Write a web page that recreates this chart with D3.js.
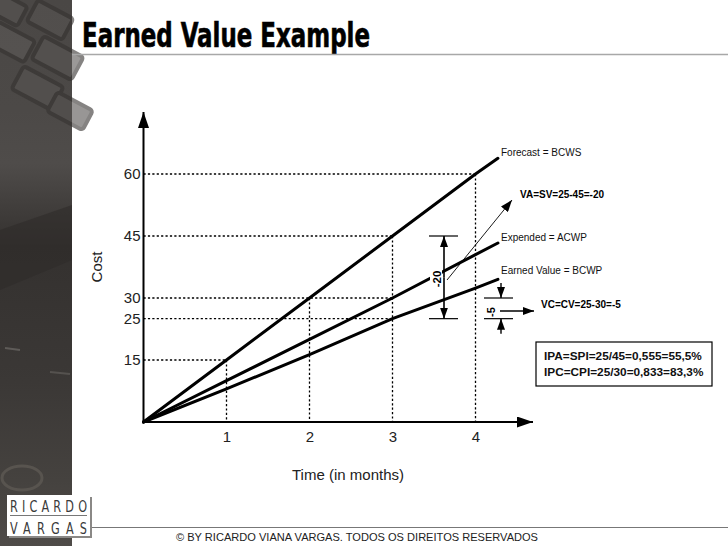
<!DOCTYPE html>
<html>
<head>
<meta charset="utf-8">
<script src="https://cdn.jsdelivr.net/npm/d3@7"></script>
<style>
  html, body { margin: 0; padding: 0; background: #fff; }
  svg { display: block; }
</style>
</head>
<body>
<div id="chart"></div>
<script>
// Datos del gráfico
const months = [0, 1, 2, 3, 4, 4.27];
const bcws = [0, 15, 30, 45, 60, 63.8];   // Forecast
const acwp = [0, 10, 20, 30, 40.5, 43.3]; // Expended
const bcwp = [0, 8, 16.3, 25, 32.4, 34.5]; // Earned Value
const seriesNames = ["Forecast = BCWS", "Expended = ACWP", "Earned Value = BCWP"];
const yTicks = [15, 25, 30, 45, 60];
const xTicks = [1, 2, 3, 4];
// líneas punteadas: nivel -> hasta qué mes
const hGuideLevels = [15, 25, 30, 45, 60];
const hGuideMonths = [1, 3, 3, 3, 4];
// verticales: mes -> hasta qué nivel
const vGuideMonths = [1, 2, 3, 4];
const vGuideLevels = [15, 30, 45, 60];
const indexLines = ["IPA=SPI=25/45=0,555=55,5%", "IPC=CPI=25/30=0,833=83,3%"];

const width = 728, height = 546;

const svg = d3.select("#chart").append("svg")
    .attr("width", width)
    .attr("height", height);

const defs = svg.append("defs");

// Fondo lateral oscuro (foto del teclado)
const grad = defs.append("linearGradient").attr("id", "side")
    .attr("x1", 0).attr("y1", 0).attr("x2", 0).attr("y2", 1);
[["0", "#4a4745"], ["0.2", "#4c4947"], ["0.3", "#4f4c4a"], ["0.45", "#34312f"], ["0.7", "#3b3836"], ["0.88", "#45423f"], ["1", "#4f4b48"]]
    .forEach(s => grad.append("stop").attr("offset", s[0]).attr("stop-color", s[1]));

function arrowMarker(id, w, h) {
    defs.append("marker").attr("id", id)
        .attr("viewBox", `0 0 ${w} ${h}`)
        .attr("refX", w).attr("refY", h / 2)
        .attr("markerWidth", w).attr("markerHeight", h)
        .attr("markerUnits", "userSpaceOnUse")
        .attr("orient", "auto")
        .append("path").attr("d", `M0,0L${w},${h / 2}L0,${h}Z`).attr("fill", "#000");
}
arrowMarker("axisArrow", 16, 11);
arrowMarker("dimArrow", 11, 8);
arrowMarker("thinArrow", 12, 9);

svg.append("rect").attr("x", 0).attr("y", 0).attr("width", 72).attr("height", height).attr("fill", "url(#side)");
const keys = svg.append("g").attr("opacity", 0.6);
[[-20, -5, 45, 22, "#585553"], [30, 8, 40, 24, "#575452"], [-10, 30, 42, 24, "#5c5957"], [35, 45, 45, 26, "#595654"],
 [15, 75, 45, 26, "#575452"], [50, 100, 40, 22, "#555250"]]
    .forEach(k => keys.append("rect").attr("x", k[0]).attr("y", k[1]).attr("width", k[2]).attr("height", k[3])
        .attr("rx", 3).attr("fill", k[4]).attr("stroke", "#353230").attr("stroke-width", 4)
        .attr("transform", `rotate(28 ${k[0] + k[2] / 2} ${k[1] + k[3] / 2})`));
svg.append("path").attr("d", "M0,230 L72,205 L72,260 L0,290 Z").attr("fill", "#2f2c2a").attr("opacity", 0.6);
svg.append("ellipse").attr("cx", 22).attr("cy", 478).attr("rx", 20).attr("ry", 12)
    .attr("fill", "none").attr("stroke", "#58544f").attr("stroke-width", 3);
svg.append("line").attr("x1", 5).attr("x2", 20).attr("y1", 348).attr("y2", 350).attr("stroke", "#5e5b58").attr("stroke-width", 2);
svg.append("line").attr("x1", 50).attr("x2", 70).attr("y1", 372).attr("y2", 374).attr("stroke", "#55524f").attr("stroke-width", 2);

// Título
svg.append("text")
    .attr("x", 82).attr("y", 47)
    .attr("font-family", "'DejaVu Sans Condensed', 'DejaVu Sans', sans-serif")
    .attr("font-weight", "bold")
    .attr("font-size", 33)
    .attr("textLength", 288)
    .attr("lengthAdjust", "spacingAndGlyphs")
    .attr("stroke", "#000").attr("stroke-width", 0.6)
    .attr("fill", "#000")
    .text("Earned Value Example");
svg.append("line").attr("x1", 72).attr("x2", width).attr("y1", 54.5).attr("y2", 54.5)
    .attr("stroke", "#a8a8a8").attr("stroke-width", 1.5);

// Escalas
const x = d3.scaleLinear().domain([0, 4]).range([143.5, 475.5]);
const y = d3.scaleLinear().domain([0, 60]).range([422, 174]);

const labelFont = "'Liberation Sans', Arial, sans-serif";

// Guías punteadas
const guides = svg.append("g").attr("stroke", "#000").attr("stroke-width", 1.3).attr("stroke-dasharray", "2.2,2.2");
hGuideLevels.forEach((v, i) => {
    guides.append("line").attr("x1", x(0)).attr("x2", x(hGuideMonths[i]))
        .attr("y1", y(v)).attr("y2", y(v));
});
vGuideMonths.forEach((m, i) => {
    guides.append("line").attr("x1", x(m)).attr("x2", x(m))
        .attr("y1", y(vGuideLevels[i])).attr("y2", y(0));
});

// Ejes
svg.append("line").attr("x1", x(0)).attr("x2", x(0)).attr("y1", y(0) + 1).attr("y2", 112)
    .attr("stroke", "#000").attr("stroke-width", 2).attr("marker-end", "url(#axisArrow)");
svg.append("line").attr("x1", x(0) - 1).attr("x2", 533).attr("y1", y(0)).attr("y2", y(0))
    .attr("stroke", "#000").attr("stroke-width", 2).attr("marker-end", "url(#axisArrow)");

const yAxis = svg.append("g").attr("transform", `translate(${x(0) - 3},0)`)
    .call(d3.axisLeft(y).tickValues(yTicks).tickSize(0).tickPadding(0));
yAxis.select(".domain").remove();
yAxis.selectAll("text").attr("font-family", labelFont).attr("font-size", 15).attr("fill", "#222");

const xAxis = svg.append("g").attr("transform", `translate(0,${y(0) + 9})`)
    .call(d3.axisBottom(x).tickValues(xTicks).tickSize(0).tickPadding(0).tickFormat(d3.format("d")));
xAxis.select(".domain").remove();
xAxis.selectAll("text").attr("font-family", labelFont).attr("font-size", 15).attr("fill", "#222");

svg.append("text").attr("transform", `translate(102,267) rotate(-90)`)
    .attr("text-anchor", "middle")
    .attr("font-family", labelFont).attr("font-size", 15).attr("fill", "#222")
    .text("Cost");
svg.append("text").attr("x", 348).attr("y", 480)
    .attr("text-anchor", "middle")
    .attr("font-family", labelFont).attr("font-size", 15).attr("fill", "#222")
    .text("Time (in months)");

// Series
const line = d3.line().x(d => x(d[0])).y(d => y(d[1]));
[bcws, acwp, bcwp].forEach(vals => {
    svg.append("path")
        .datum(months.map((m, i) => [m, vals[i]]))
        .attr("d", line)
        .attr("fill", "none")
        .attr("stroke", "#000")
        .attr("stroke-width", 3)
        .attr("stroke-linecap", "round");
});

// Etiquetas de series
const labelY = [156, 241, 274];
seriesNames.forEach((name, i) => {
    svg.append("text").attr("x", 501).attr("y", labelY[i])
        .attr("font-family", labelFont).attr("font-size", 10).attr("fill", "#111")
        .text(name);
});

// Cota -20 (SV)
const dim = svg.append("g").attr("stroke", "#000");
const sx = 444;
dim.append("line").attr("x1", 429).attr("x2", 458).attr("y1", y(45)).attr("y2", y(45)).attr("stroke-width", 1.2);
dim.append("line").attr("x1", 429).attr("x2", 458).attr("y1", y(25)).attr("y2", y(25)).attr("stroke-width", 1.2);
const midSV = (y(45) + y(25)) / 2;
dim.append("line").attr("x1", sx).attr("x2", sx).attr("y1", midSV).attr("y2", y(45))
    .attr("stroke-width", 1.6).attr("marker-end", "url(#dimArrow)");
dim.append("line").attr("x1", sx).attr("x2", sx).attr("y1", midSV).attr("y2", y(25))
    .attr("stroke-width", 1.6).attr("marker-end", "url(#dimArrow)");
svg.append("rect").attr("x", 430).attr("y", 266).attr("width", 12).attr("height", 25).attr("fill", "#fff");
svg.append("text").attr("transform", `translate(441,279) rotate(-90)`)
    .attr("text-anchor", "middle")
    .attr("font-family", labelFont).attr("font-weight", "bold").attr("font-size", 11.5)
    .text("-20");
dim.append("line").attr("x1", 447).attr("y1", 280).attr("x2", 512).attr("y2", 200)
    .attr("stroke-width", 0.9).attr("marker-end", "url(#thinArrow)");
svg.append("text").attr("x", 520).attr("y", 198)
    .attr("font-family", labelFont).attr("font-weight", "bold").attr("font-size", 10)
    .text("VA=SV=25-45=-20");

// Cota -5 (CV)
const cx = 501;
dim.append("line").attr("x1", 484).attr("x2", 513).attr("y1", y(30)).attr("y2", y(30)).attr("stroke-width", 1.2);
dim.append("line").attr("x1", 484).attr("x2", 513).attr("y1", y(25)).attr("y2", y(25)).attr("stroke-width", 1.2);
dim.append("line").attr("x1", cx).attr("x2", cx).attr("y1", y(30) - 15).attr("y2", y(30))
    .attr("stroke-width", 1.4).attr("marker-end", "url(#dimArrow)");
dim.append("line").attr("x1", cx).attr("x2", cx).attr("y1", y(25) + 15).attr("y2", y(25))
    .attr("stroke-width", 1.4).attr("marker-end", "url(#dimArrow)");
svg.append("text").attr("transform", `translate(495,312) rotate(-90)`)
    .attr("text-anchor", "middle")
    .attr("font-family", labelFont).attr("font-weight", "bold").attr("font-size", 11)
    .text("-5");
dim.append("line").attr("x1", 500).attr("x2", 534).attr("y1", 311).attr("y2", 311)
    .attr("stroke-width", 1.4).attr("marker-end", "url(#dimArrow)");
svg.append("text").attr("x", 541).attr("y", 308)
    .attr("font-family", labelFont).attr("font-weight", "bold").attr("font-size", 10)
    .text("VC=CV=25-30=-5");

// Caja de índices
svg.append("rect").attr("x", 536).attr("y", 342).attr("width", 176).attr("height", 44)
    .attr("fill", "#fff").attr("stroke", "#000").attr("stroke-width", 1.2);
indexLines.forEach((t, i) => {
    svg.append("text").attr("x", 544).attr("y", 360 + i * 15.5)
        .attr("font-family", labelFont).attr("font-weight", "bold").attr("font-size", 11.8)
        .attr("fill", "#111")
        .text(t);
});

// Pie de página
svg.append("line").attr("x1", 88).attr("x2", width).attr("y1", 527.5).attr("y2", 527.5)
    .attr("stroke", "#777").attr("stroke-width", 1.2);
svg.append("text").attr("x", 176).attr("y", 541)
    .attr("font-family", labelFont).attr("font-size", 10.5).attr("fill", "#222")
    .attr("textLength", 362).attr("lengthAdjust", "spacingAndGlyphs")
    .text("© BY RICARDO VIANA VARGAS. TODOS OS DIREITOS RESERVADOS");

// Logo
svg.append("rect").attr("x", 9).attr("y", 497).attr("width", 83).attr("height", 41).attr("fill", "#8a8886");
svg.append("rect").attr("x", 7).attr("y", 495).attr("width", 83).attr("height", 41).attr("fill", "#fff");
svg.append("line").attr("x1", 10).attr("x2", 87).attr("y1", 515.5).attr("y2", 515.5).attr("stroke", "#777").attr("stroke-width", 1);
[["RICARDO", 512], ["VARGAS", 534]].forEach(l => {
    svg.append("text")
        .attr("transform", `translate(10,${l[1]}) scale(1,1.2)`)
        .attr("font-family", "'DejaVu Sans Condensed', sans-serif").attr("font-size", 12.5)
        .attr("fill", "#3a3a3a")
        .attr("textLength", 77).attr("lengthAdjust", "spacing")
        .text(l[0]);
});
</script>
</body>
</html>
